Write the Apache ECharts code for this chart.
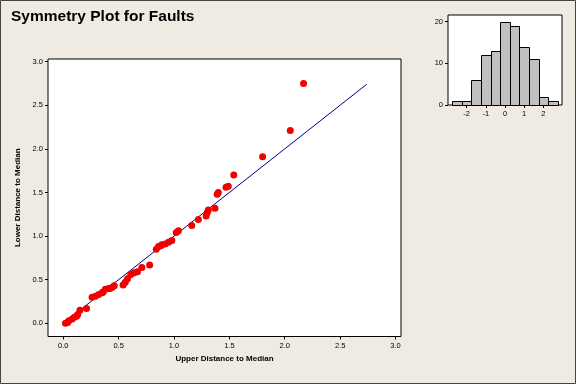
<!DOCTYPE html>
<html>
<head>
<meta charset="utf-8">
<script src="https://cdn.jsdelivr.net/npm/echarts@6/dist/echarts.min.js"></script>
<style>
html,body{margin:0;padding:0;background:#efebe2;}
#chart{width:576px;height:384px;}
</style>
</head>
<body>
<div id="chart"></div>
<script>
// Symmetry plot data: distances above / below median (paired order statistics)
const upperDist = [0.02,0.04,0.05,0.08,0.10,0.12,0.13,0.15,0.21,0.26,0.29,0.32,0.35,0.36,0.38,0.41,0.42,0.44,0.46,0.54,0.56,0.58,0.61,0.64,0.67,0.71,0.78,0.84,0.86,0.88,0.89,0.92,0.95,0.98,1.02,1.04,1.16,1.22,1.29,1.30,1.31,1.37,1.39,1.40,1.47,1.49,1.54,1.80,2.05,2.17];
const lowerDist = [0.00,0.01,0.03,0.05,0.07,0.08,0.10,0.15,0.17,0.30,0.31,0.33,0.35,0.36,0.39,0.40,0.40,0.41,0.43,0.44,0.47,0.51,0.56,0.58,0.59,0.64,0.67,0.85,0.88,0.89,0.90,0.91,0.93,0.95,1.04,1.06,1.12,1.19,1.23,1.27,1.30,1.32,1.48,1.50,1.56,1.57,1.70,1.91,2.21,2.75];
const refLineEnd = 2.74;
const mainTicks = [0,0.5,1,1.5,2,2.5,3];

// Histogram of the data
const binCenters = [-2.5,-2,-1.5,-1,-0.5,0,0.5,1,1.5,2,2.5];
const binCounts  = [1,1,6,12,13,20,19,14,11,2,1];
const binWidth = 0.5;
const histXTicks = [-2,-1,0,1,2];
const histYTicks = [0,10,20];

const FONT = 'Liberation Sans';
const chart = echarts.init(document.getElementById('chart'));

const scatterData = upperDist.map((u,i)=>[u, lowerDist[i]]);
const histData = binCenters.map((c,i)=>[c-binWidth/2, c+binWidth/2, binCounts[i]]);

const smallLabel = {color:'#000', fontSize:7.5, fontFamily:FONT};

chart.setOption({
  backgroundColor:'#efebe2',
  animation:false,
  graphic:[
    {type:'rect', shape:{x:0.5,y:0.5,width:575,height:383}, style:{fill:'none', stroke:'#444', lineWidth:1}, z:100},
    {type:'text', left:11, top:9, style:{text:'Symmetry Plot for Faults', fontSize:15.5, fontWeight:'bold', fontFamily:FONT, fill:'#000'}}
  ],
  grid:[
    {left:48, top:59, width:353, height:277.5, show:true, backgroundColor:'#fff', borderColor:'#000', borderWidth:1},
    {left:448, top:15, width:114, height:90, show:true, backgroundColor:'#fff', borderColor:'#000', borderWidth:1}
  ],
  xAxis:[
    {gridIndex:0, type:'value', min:-0.138, max:3.05,
     name:'Upper Distance to Median', nameLocation:'middle', nameGap:16,
     nameTextStyle:{color:'#000', fontSize:8, fontWeight:'bold', fontFamily:FONT},
     axisLine:{show:false, onZero:false}, splitLine:{show:false},
     axisTick:{show:true, length:3, lineStyle:{color:'#000'}, customValues:mainTicks},
     axisLabel:Object.assign({margin:5, customValues:mainTicks, formatter:v=>v.toFixed(1)}, smallLabel)},
    {gridIndex:1, type:'value', min:-2.97, max:2.97,
     axisLine:{show:false, onZero:false}, splitLine:{show:false},
     axisTick:{show:true, length:3, lineStyle:{color:'#000'}, customValues:histXTicks},
     axisLabel:Object.assign({margin:5, customValues:histXTicks, formatter:v=>String(v)}, smallLabel)}
  ],
  yAxis:[
    {gridIndex:0, type:'value', min:-0.151, max:3.03,
     name:'Lower Distance to Median', nameLocation:'middle', nameGap:23,
     nameTextStyle:{color:'#000', fontSize:8, fontWeight:'bold', fontFamily:FONT},
     axisLine:{show:false, onZero:false}, splitLine:{show:false},
     axisTick:{show:true, length:3, lineStyle:{color:'#000'}, customValues:mainTicks},
     axisLabel:Object.assign({margin:5, customValues:mainTicks, formatter:v=>v.toFixed(1)}, smallLabel)},
    {gridIndex:1, type:'value', min:0, max:21.6,
     axisLine:{show:false, onZero:false}, splitLine:{show:false},
     axisTick:{show:true, length:3, lineStyle:{color:'#000'}, customValues:histYTicks},
     axisLabel:Object.assign({margin:5, customValues:histYTicks, formatter:v=>String(v)}, smallLabel)}
  ],
  series:[
    {type:'line', xAxisIndex:0, yAxisIndex:0, data:[[0,0],[refLineEnd,refLineEnd]],
     showSymbol:false, symbol:'none', lineStyle:{color:'#000080', width:1}, z:2, silent:true},
    {type:'scatter', xAxisIndex:0, yAxisIndex:0, data:scatterData, symbol:'circle', symbolSize:7,
     itemStyle:{color:'#f00000', opacity:1}, z:3},
    {type:'custom', xAxisIndex:1, yAxisIndex:1, data:histData,
     renderItem:function(params, api){
       const p0 = api.coord([api.value(0), api.value(2)]);
       const p1 = api.coord([api.value(1), 0]);
       return {type:'rect', shape:{x:Math.round(p0[0])+0.5, y:Math.round(p0[1])+0.5, width:Math.round(p1[0])-Math.round(p0[0]), height:Math.round(p1[1])-Math.round(p0[1])},
               style:{fill:'#c0c0c0', stroke:'#000', lineWidth:1}};
     }}
  ]
});
</script>
</body>
</html>
